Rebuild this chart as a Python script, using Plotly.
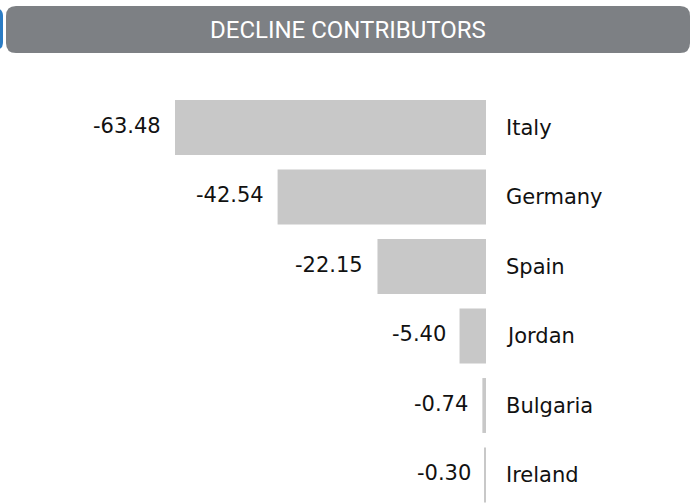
import plotly.graph_objects as go

countries = ["Italy", "Germany", "Spain", "Jordan", "Bulgaria", "Ireland"]
values = [-63.48, -42.54, -22.15, -5.40, -0.74, -0.30]
title_text = "DECLINE CONTRIBUTORS"

W, H = 696, 504
TOP = 60  # pixels reserved above the plot area for the header bar

positions = list(range(len(countries)))


def rounded_rect(x0, y0, x1, y1, r):
    """Rounded rectangle path in paper coordinates, from pixel values (y down)."""
    def px(x):
        return x / W

    def py(y):
        return 1 - y / H

    return (
        f"M {px(x0 + r)},{py(y0)} L {px(x1 - r)},{py(y0)} "
        f"Q {px(x1)},{py(y0)} {px(x1)},{py(y0 + r)} "
        f"L {px(x1)},{py(y1 - r)} Q {px(x1)},{py(y1)} {px(x1 - r)},{py(y1)} "
        f"L {px(x0 + r)},{py(y1)} Q {px(x0)},{py(y1)} {px(x0)},{py(y1 - r)} "
        f"L {px(x0)},{py(y0 + r)} Q {px(x0)},{py(y0)} {px(x0 + r)},{py(y0)} Z"
    )


fig = go.Figure(
    go.Bar(
        x=values,
        y=positions,
        orientation="h",
        width=0.79,
        marker=dict(color="#c8c8c8", line=dict(width=0)),
        hoverinfo="skip",
    )
)

annotations = []
for pos, name, val in zip(positions, countries, values):
    annotations.append(dict(
        x=val, y=pos, xref="x", yref="y", text=f"{val:.2f}",
        xanchor="right", yanchor="middle", xshift=-12, yshift=2,
        showarrow=False,
        font=dict(family="DejaVu Sans", size=21, color="#111111"),
    ))
    annotations.append(dict(
        x=0, y=pos, xref="x", yref="y", text=name,
        xanchor="left", yanchor="middle", xshift=18,
        showarrow=False,
        font=dict(family="DejaVu Sans", size=21, color="#111111"),
    ))

annotations.append(dict(
    x=348 / W, y=1 - 30 / H, xref="paper", yref="paper", text=title_text,
    xanchor="center", yanchor="middle", showarrow=False,
    font=dict(family="Roboto", size=24, color="#ffffff"),
))

shapes = [
    dict(type="path", xref="paper", yref="paper",
         path=rounded_rect(-14, 8, 3, 50, 8),
         fillcolor="#2b7cc4", line=dict(width=0), layer="below"),
    dict(type="path", xref="paper", yref="paper",
         path=rounded_rect(6, 6, 690, 53, 10),
         fillcolor="#7d8084", line=dict(width=0), layer="below"),
]

px_per_unit = (486 - 175) / 63.48
row_px = 69.5
first_center = 127.5

fig.update_layout(
    width=W, height=H,
    margin=dict(l=0, r=0, t=0, b=0),
    paper_bgcolor="#ffffff", plot_bgcolor="#ffffff",
    showlegend=False,
    xaxis=dict(
        range=[-486 / px_per_unit, (W - 486) / px_per_unit],
        visible=False, fixedrange=True,
    ),
    yaxis=dict(
        domain=[0, 1 - TOP / H],
        range=[(H - first_center) / row_px, -(first_center - TOP) / row_px],
        visible=False, fixedrange=True,
    ),
    annotations=annotations,
    shapes=shapes,
)

fig.write_html("out.html")
